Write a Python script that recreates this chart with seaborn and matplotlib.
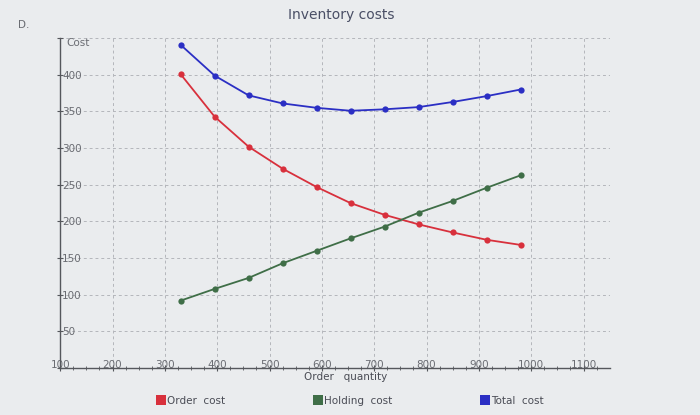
import matplotlib

matplotlib.use("Agg")
import matplotlib.pyplot as plt
import pandas as pd
import seaborn as sns
from matplotlib.lines import Line2D

order_qty = [330, 395, 460, 525, 590, 655, 720, 785, 850, 915, 980]
order_cost = [401, 343, 302, 272, 247, 225, 209, 196, 185, 175, 168]
holding_cost = [92, 108, 123, 143, 160, 177, 193, 212, 228, 246, 263]
total_cost = [441, 399, 372, 361, 355, 351, 353, 356, 363, 371, 380]

series_names = ["Order  cost", "Holding  cost", "Total  cost"]
series_colors = ["#d8303c", "#3f6e47", "#2b2fc4"]
x_ticks = list(range(100, 1101, 100))
y_ticks = list(range(0, 451, 50))

df = pd.concat(
    [
        pd.DataFrame({"qty": order_qty, "cost": order_cost, "series": series_names[0]}),
        pd.DataFrame({"qty": order_qty, "cost": holding_cost, "series": series_names[1]}),
        pd.DataFrame({"qty": order_qty, "cost": total_cost, "series": series_names[2]}),
    ],
    ignore_index=True,
)


def main() -> None:
    sns.set_theme(style="whitegrid")
    plt.rcParams["font.family"] = ["DejaVu Sans"]
    bg = "#eaecee"

    fig = plt.figure(figsize=(7, 4.15), dpi=100, facecolor=bg)
    ax = fig.add_axes([0.086, 0.113, 0.785, 0.795], facecolor=bg)

    sns.lineplot(
        data=df,
        x="qty",
        y="cost",
        hue="series",
        palette=dict(zip(series_names, series_colors)),
        marker="o",
        markersize=4.5,
        markeredgewidth=0,
        linewidth=1.3,
        legend=False,
        ax=ax,
    )

    ax.set_xlim(100, 1150)
    ax.set_ylim(0, 450)
    ax.set_xticks(x_ticks)
    ax.set_yticks(y_ticks)
    ax.set_yticklabels([""] + [str(v) for v in y_ticks[1:-1]] + [""])
    ax.set_xticks(range(100, 1150, 25), minor=True)
    ax.grid(True, color="#b4b6bb", linestyle=(0, (3, 3)), linewidth=0.7)
    ax.grid(False, which="minor")

    for side in ["top", "right"]:
        ax.spines[side].set_visible(False)
    for side in ["left", "bottom"]:
        ax.spines[side].set_color("#55575c")
        ax.spines[side].set_linewidth(1.0)

    ax.tick_params(axis="y", direction="inout", length=5, width=0.8, pad=-4,
                   labelsize=7.5, labelcolor="#6a6c72", color="#55575c", left=True)
    ax.tick_params(axis="x", direction="inout", length=5, width=0.8, pad=-1,
                   labelsize=7.5, labelcolor="#6a6c72", color="#55575c", bottom=True)
    ax.tick_params(axis="x", which="minor", direction="inout", length=3,
                   width=0.6, color="#55575c", bottom=True)
    for lab in ax.get_yticklabels():
        lab.set_horizontalalignment("left")
    for lab in ax.get_xticklabels():
        lab.set_verticalalignment("bottom")

    ax.set_ylabel("Cost", rotation=0, fontsize=7.5, color="#6a6c72", ha="left", va="top")
    ax.yaxis.set_label_coords(0.012, 1.0)
    ax.set_xlabel("Order   quantity", fontsize=7.5, color="#4a4c55", ha="center", va="top")
    ax.xaxis.set_label_coords(0.52, -0.012)

    fig.text(0.487, 0.965, "Inventory costs", ha="center", va="center",
             fontsize=10, color="#4a4f66")
    fig.text(0.026, 0.94, "D.", ha="left", va="center", fontsize=7.5, color="#6a6c72")

    handles = [
        Line2D([], [], linestyle="none", marker="s", markersize=7,
               markerfacecolor=c, markeredgewidth=0)
        for c in series_colors
    ]
    fig.legend(handles, series_names, loc="lower center", ncol=3,
               bbox_to_anchor=(0.5, 0.0), frameon=False, fontsize=7.5,
               labelcolor="#4a4c55", handletextpad=0.2, columnspacing=8.5,
               handlelength=0.8)

    fig.savefig("out.png", dpi=100, facecolor=bg)
    plt.close(fig)


if __name__ == "__main__":
    main()
